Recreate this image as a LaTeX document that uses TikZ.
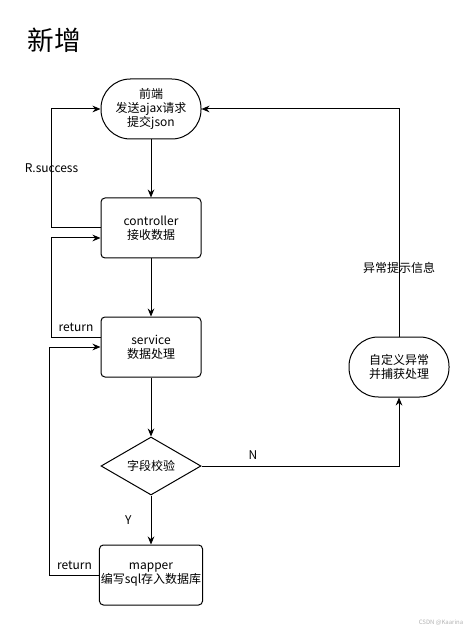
\documentclass[tikz,border=0pt]{standalone}
\usepackage{fontspec}
\setmainfont{Noto Sans CJK SC}
\usetikzlibrary{arrows.meta,shapes.geometric}

\begin{document}
\begin{tikzpicture}[x=0.75pt,y=-0.75pt,line width=0.75pt,
    >={Stealth[length=6pt,width=5pt]},
    txt/.style={font=\fontsize{9}{10.5}\selectfont},
    box/.style={draw,txt,rounded corners=3pt,minimum width=75pt,minimum height=45pt,align=center,inner sep=1pt},
    term/.style={box,rounded corners=22pt},
    check/.style={draw,txt,diamond,shape aspect=1.72,minimum width=75pt,minimum height=43.5pt,inner sep=0pt}]
    \useasboundingbox (0,0) rectangle (474,630);
    \node[anchor=west,font=\fontsize{20}{24}\selectfont] (title) at (23,40) {新增};
    % main column
    \node[term] (front) at (151,109) {前端\\发送ajax请求\\提交json};
    \node[box] (ctrl) at (151,228) {controller\\接收数据};
    \node[box] (srv) at (151,347) {service\\数据处理};
    \node[check] (chk) at (151,466) {字段校验};
    \node[box] (map) at (151,575) {mapper\\编写sql存入数据库};
    \node[term] (exc) at (399,367) {自定义异常\\并捕获处理};
    \draw [->] (front) -- (ctrl);
    \draw [->] (ctrl) -- (srv);
    \draw [->] (srv) -- (chk);
    \draw [->] (chk) -- node[txt,left=11pt] {Y} (map);
    % error branch
    \draw [->] (chk.east) -| node[txt,pos=0.13,above=1pt] {N} (exc.south);
    \draw [->] (exc.north) |- node[txt,pos=0.15] {异常提示信息} (front.east);
    % returns on the left
    \draw [->] (ctrl.west) -- ++(-49,0) |- node[txt,pos=0.25] {R.success} (front.west);
    \draw [->] ([yshift=7.5pt]srv.west) -- node[txt,above] {return} ++(-49,0) |- ([yshift=-7.5pt]ctrl.west);
    \draw [->] (map.west) -- node[txt,above] {return} ++(-49,0) |- (srv.west);
    \node[font=\fontsize{4.5}{5}\selectfont,text=gray!60] (mark) at (441,623) {CSDN @Kaarina};
\end{tikzpicture}
\end{document}
